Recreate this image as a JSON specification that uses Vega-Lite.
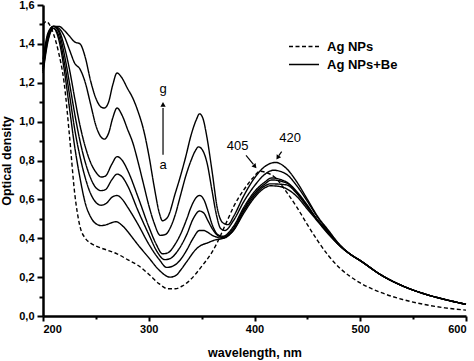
{
"$schema":"https://vega.github.io/schema/vega-lite/v6.json",
"width":423,"height":311,
"autosize":{"type":"none"},
"padding":{"left":43,"top":5,"right":8,"bottom":45},
"background":"white",
"config":{"view":{"stroke":null},"font":"Liberation Sans",
 "axis":{"grid":false,"domainColor":"black","domainWidth":2.5,"tickColor":"black","tickWidth":2,"labelColor":"black","labelFontWeight":"bold","labelFontSize":11,"titleColor":"black","titleFontWeight":"bold","titleFontSize":12.5,"labelOverlap":false,"labelBound":false}},
"resolve":{"scale":{"y":"independent"},"axis":{"y":"independent"}},
"datasets":{
"curves":[
{"c":"a","s":"Ag NPs","x":200,"y":1.5},{"c":"a","s":"Ag NPs","x":203,"y":1.515},{"c":"a","s":"Ag NPs","x":206,"y":1.5},{"c":"a","s":"Ag NPs","x":210,"y":1.45},{"c":"a","s":"Ag NPs","x":215,"y":1.35},{"c":"a","s":"Ag NPs","x":220,"y":1.2},{"c":"a","s":"Ag NPs","x":225,"y":0.93},{"c":"a","s":"Ag NPs","x":230,"y":0.63},{"c":"a","s":"Ag NPs","x":235,"y":0.46},{"c":"a","s":"Ag NPs","x":240,"y":0.4},{"c":"a","s":"Ag NPs","x":245,"y":0.375},{"c":"a","s":"Ag NPs","x":250,"y":0.36},{"c":"a","s":"Ag NPs","x":260,"y":0.34},{"c":"a","s":"Ag NPs","x":270,"y":0.32},{"c":"a","s":"Ag NPs","x":280,"y":0.29},{"c":"a","s":"Ag NPs","x":290,"y":0.26},{"c":"a","s":"Ag NPs","x":300,"y":0.215},{"c":"a","s":"Ag NPs","x":310,"y":0.165},{"c":"a","s":"Ag NPs","x":318,"y":0.14},{"c":"a","s":"Ag NPs","x":325,"y":0.14},{"c":"a","s":"Ag NPs","x":332,"y":0.155},{"c":"a","s":"Ag NPs","x":340,"y":0.19},{"c":"a","s":"Ag NPs","x":350,"y":0.255},{"c":"a","s":"Ag NPs","x":360,"y":0.33},{"c":"a","s":"Ag NPs","x":365,"y":0.38},{"c":"a","s":"Ag NPs","x":370,"y":0.44},{"c":"a","s":"Ag NPs","x":375,"y":0.5},{"c":"a","s":"Ag NPs","x":380,"y":0.56},{"c":"a","s":"Ag NPs","x":390,"y":0.65},{"c":"a","s":"Ag NPs","x":400,"y":0.72},{"c":"a","s":"Ag NPs","x":405,"y":0.745},{"c":"a","s":"Ag NPs","x":410,"y":0.74},{"c":"a","s":"Ag NPs","x":420,"y":0.71},{"c":"a","s":"Ag NPs","x":430,"y":0.64},{"c":"a","s":"Ag NPs","x":440,"y":0.56},{"c":"a","s":"Ag NPs","x":450,"y":0.47},{"c":"a","s":"Ag NPs","x":460,"y":0.385},{"c":"a","s":"Ag NPs","x":470,"y":0.31},{"c":"a","s":"Ag NPs","x":480,"y":0.25},{"c":"a","s":"Ag NPs","x":490,"y":0.205},{"c":"a","s":"Ag NPs","x":500,"y":0.17},{"c":"a","s":"Ag NPs","x":520,"y":0.12},{"c":"a","s":"Ag NPs","x":540,"y":0.085},{"c":"a","s":"Ag NPs","x":560,"y":0.06},{"c":"a","s":"Ag NPs","x":580,"y":0.042},{"c":"a","s":"Ag NPs","x":600,"y":0.03},

{"c":"g","s":"Ag NPs+Be","x":200,"y":1.32},{"c":"g","s":"Ag NPs+Be","x":205,"y":1.46},{"c":"g","s":"Ag NPs+Be","x":210,"y":1.49},{"c":"g","s":"Ag NPs+Be","x":215,"y":1.49},{"c":"g","s":"Ag NPs+Be","x":220,"y":1.47},{"c":"g","s":"Ag NPs+Be","x":225,"y":1.44},{"c":"g","s":"Ag NPs+Be","x":230,"y":1.41},{"c":"g","s":"Ag NPs+Be","x":235,"y":1.4},{"c":"g","s":"Ag NPs+Be","x":240,"y":1.33},{"c":"g","s":"Ag NPs+Be","x":245,"y":1.21},{"c":"g","s":"Ag NPs+Be","x":250,"y":1.12},{"c":"g","s":"Ag NPs+Be","x":255,"y":1.075},{"c":"g","s":"Ag NPs+Be","x":258,"y":1.07},{"c":"g","s":"Ag NPs+Be","x":262,"y":1.1},{"c":"g","s":"Ag NPs+Be","x":266,"y":1.19},{"c":"g","s":"Ag NPs+Be","x":270,"y":1.25},{"c":"g","s":"Ag NPs+Be","x":274,"y":1.23},{"c":"g","s":"Ag NPs+Be","x":280,"y":1.17},{"c":"g","s":"Ag NPs+Be","x":285,"y":1.12},{"c":"g","s":"Ag NPs+Be","x":290,"y":1.05},{"c":"g","s":"Ag NPs+Be","x":295,"y":0.96},{"c":"g","s":"Ag NPs+Be","x":300,"y":0.83},{"c":"g","s":"Ag NPs+Be","x":305,"y":0.67},{"c":"g","s":"Ag NPs+Be","x":310,"y":0.53},{"c":"g","s":"Ag NPs+Be","x":313,"y":0.49},{"c":"g","s":"Ag NPs+Be","x":318,"y":0.51},{"c":"g","s":"Ag NPs+Be","x":325,"y":0.63},{"c":"g","s":"Ag NPs+Be","x":330,"y":0.72},{"c":"g","s":"Ag NPs+Be","x":335,"y":0.82},{"c":"g","s":"Ag NPs+Be","x":340,"y":0.93},{"c":"g","s":"Ag NPs+Be","x":345,"y":1.01},{"c":"g","s":"Ag NPs+Be","x":348,"y":1.04},{"c":"g","s":"Ag NPs+Be","x":351,"y":1.02},{"c":"g","s":"Ag NPs+Be","x":355,"y":0.92},{"c":"g","s":"Ag NPs+Be","x":360,"y":0.74},{"c":"g","s":"Ag NPs+Be","x":365,"y":0.55},{"c":"g","s":"Ag NPs+Be","x":370,"y":0.48},{"c":"g","s":"Ag NPs+Be","x":375,"y":0.47},{"c":"g","s":"Ag NPs+Be","x":380,"y":0.51},{"c":"g","s":"Ag NPs+Be","x":390,"y":0.62},{"c":"g","s":"Ag NPs+Be","x":400,"y":0.71},{"c":"g","s":"Ag NPs+Be","x":410,"y":0.77},{"c":"g","s":"Ag NPs+Be","x":420,"y":0.79},{"c":"g","s":"Ag NPs+Be","x":430,"y":0.76},{"c":"g","s":"Ag NPs+Be","x":440,"y":0.69},{"c":"g","s":"Ag NPs+Be","x":450,"y":0.6},{"c":"g","s":"Ag NPs+Be","x":460,"y":0.51},{"c":"g","s":"Ag NPs+Be","x":470,"y":0.44},{"c":"g","s":"Ag NPs+Be","x":480,"y":0.37},{"c":"g","s":"Ag NPs+Be","x":490,"y":0.32},{"c":"g","s":"Ag NPs+Be","x":500,"y":0.285},{"c":"g","s":"Ag NPs+Be","x":520,"y":0.21},{"c":"g","s":"Ag NPs+Be","x":540,"y":0.155},{"c":"g","s":"Ag NPs+Be","x":560,"y":0.115},{"c":"g","s":"Ag NPs+Be","x":580,"y":0.085},{"c":"g","s":"Ag NPs+Be","x":600,"y":0.06},

{"c":"f","s":"Ag NPs+Be","x":200,"y":1.3},{"c":"f","s":"Ag NPs+Be","x":205,"y":1.45},{"c":"f","s":"Ag NPs+Be","x":210,"y":1.49},{"c":"f","s":"Ag NPs+Be","x":215,"y":1.48},{"c":"f","s":"Ag NPs+Be","x":220,"y":1.44},{"c":"f","s":"Ag NPs+Be","x":225,"y":1.37},{"c":"f","s":"Ag NPs+Be","x":230,"y":1.3},{"c":"f","s":"Ag NPs+Be","x":235,"y":1.27},{"c":"f","s":"Ag NPs+Be","x":240,"y":1.2},{"c":"f","s":"Ag NPs+Be","x":245,"y":1.09},{"c":"f","s":"Ag NPs+Be","x":250,"y":0.98},{"c":"f","s":"Ag NPs+Be","x":255,"y":0.92},{"c":"f","s":"Ag NPs+Be","x":258,"y":0.91},{"c":"f","s":"Ag NPs+Be","x":262,"y":0.94},{"c":"f","s":"Ag NPs+Be","x":266,"y":1.02},{"c":"f","s":"Ag NPs+Be","x":270,"y":1.07},{"c":"f","s":"Ag NPs+Be","x":275,"y":1.03},{"c":"f","s":"Ag NPs+Be","x":280,"y":0.96},{"c":"f","s":"Ag NPs+Be","x":285,"y":0.89},{"c":"f","s":"Ag NPs+Be","x":290,"y":0.79},{"c":"f","s":"Ag NPs+Be","x":295,"y":0.68},{"c":"f","s":"Ag NPs+Be","x":300,"y":0.57},{"c":"f","s":"Ag NPs+Be","x":305,"y":0.48},{"c":"f","s":"Ag NPs+Be","x":311,"y":0.415},{"c":"f","s":"Ag NPs+Be","x":316,"y":0.42},{"c":"f","s":"Ag NPs+Be","x":320,"y":0.45},{"c":"f","s":"Ag NPs+Be","x":325,"y":0.52},{"c":"f","s":"Ag NPs+Be","x":330,"y":0.62},{"c":"f","s":"Ag NPs+Be","x":335,"y":0.72},{"c":"f","s":"Ag NPs+Be","x":340,"y":0.8},{"c":"f","s":"Ag NPs+Be","x":344,"y":0.85},{"c":"f","s":"Ag NPs+Be","x":347,"y":0.87},{"c":"f","s":"Ag NPs+Be","x":350,"y":0.86},{"c":"f","s":"Ag NPs+Be","x":355,"y":0.79},{"c":"f","s":"Ag NPs+Be","x":360,"y":0.64},{"c":"f","s":"Ag NPs+Be","x":364,"y":0.52},{"c":"f","s":"Ag NPs+Be","x":368,"y":0.45},{"c":"f","s":"Ag NPs+Be","x":372,"y":0.44},{"c":"f","s":"Ag NPs+Be","x":380,"y":0.49},{"c":"f","s":"Ag NPs+Be","x":390,"y":0.59},{"c":"f","s":"Ag NPs+Be","x":400,"y":0.67},{"c":"f","s":"Ag NPs+Be","x":410,"y":0.73},{"c":"f","s":"Ag NPs+Be","x":418,"y":0.75},{"c":"f","s":"Ag NPs+Be","x":430,"y":0.73},{"c":"f","s":"Ag NPs+Be","x":440,"y":0.67},{"c":"f","s":"Ag NPs+Be","x":450,"y":0.59},{"c":"f","s":"Ag NPs+Be","x":460,"y":0.505},{"c":"f","s":"Ag NPs+Be","x":470,"y":0.435},{"c":"f","s":"Ag NPs+Be","x":480,"y":0.37},{"c":"f","s":"Ag NPs+Be","x":490,"y":0.32},{"c":"f","s":"Ag NPs+Be","x":500,"y":0.285},{"c":"f","s":"Ag NPs+Be","x":520,"y":0.21},{"c":"f","s":"Ag NPs+Be","x":540,"y":0.155},{"c":"f","s":"Ag NPs+Be","x":560,"y":0.115},{"c":"f","s":"Ag NPs+Be","x":580,"y":0.085},{"c":"f","s":"Ag NPs+Be","x":600,"y":0.06},

{"c":"e","s":"Ag NPs+Be","x":200,"y":1.28},{"c":"e","s":"Ag NPs+Be","x":205,"y":1.45},{"c":"e","s":"Ag NPs+Be","x":210,"y":1.49},{"c":"e","s":"Ag NPs+Be","x":215,"y":1.47},{"c":"e","s":"Ag NPs+Be","x":220,"y":1.39},{"c":"e","s":"Ag NPs+Be","x":225,"y":1.27},{"c":"e","s":"Ag NPs+Be","x":230,"y":1.12},{"c":"e","s":"Ag NPs+Be","x":235,"y":0.98},{"c":"e","s":"Ag NPs+Be","x":240,"y":0.87},{"c":"e","s":"Ag NPs+Be","x":245,"y":0.79},{"c":"e","s":"Ag NPs+Be","x":250,"y":0.74},{"c":"e","s":"Ag NPs+Be","x":255,"y":0.715},{"c":"e","s":"Ag NPs+Be","x":259,"y":0.72},{"c":"e","s":"Ag NPs+Be","x":265,"y":0.78},{"c":"e","s":"Ag NPs+Be","x":270,"y":0.82},{"c":"e","s":"Ag NPs+Be","x":275,"y":0.8},{"c":"e","s":"Ag NPs+Be","x":280,"y":0.75},{"c":"e","s":"Ag NPs+Be","x":290,"y":0.61},{"c":"e","s":"Ag NPs+Be","x":300,"y":0.46},{"c":"e","s":"Ag NPs+Be","x":307,"y":0.37},{"c":"e","s":"Ag NPs+Be","x":313,"y":0.32},{"c":"e","s":"Ag NPs+Be","x":318,"y":0.325},{"c":"e","s":"Ag NPs+Be","x":325,"y":0.37},{"c":"e","s":"Ag NPs+Be","x":330,"y":0.42},{"c":"e","s":"Ag NPs+Be","x":336,"y":0.5},{"c":"e","s":"Ag NPs+Be","x":340,"y":0.56},{"c":"e","s":"Ag NPs+Be","x":345,"y":0.61},{"c":"e","s":"Ag NPs+Be","x":348,"y":0.62},{"c":"e","s":"Ag NPs+Be","x":352,"y":0.6},{"c":"e","s":"Ag NPs+Be","x":356,"y":0.54},{"c":"e","s":"Ag NPs+Be","x":360,"y":0.47},{"c":"e","s":"Ag NPs+Be","x":365,"y":0.42},{"c":"e","s":"Ag NPs+Be","x":370,"y":0.41},{"c":"e","s":"Ag NPs+Be","x":380,"y":0.46},{"c":"e","s":"Ag NPs+Be","x":390,"y":0.56},{"c":"e","s":"Ag NPs+Be","x":400,"y":0.64},{"c":"e","s":"Ag NPs+Be","x":410,"y":0.69},{"c":"e","s":"Ag NPs+Be","x":416,"y":0.71},{"c":"e","s":"Ag NPs+Be","x":430,"y":0.69},{"c":"e","s":"Ag NPs+Be","x":440,"y":0.64},{"c":"e","s":"Ag NPs+Be","x":450,"y":0.57},{"c":"e","s":"Ag NPs+Be","x":460,"y":0.49},{"c":"e","s":"Ag NPs+Be","x":470,"y":0.43},{"c":"e","s":"Ag NPs+Be","x":480,"y":0.365},{"c":"e","s":"Ag NPs+Be","x":490,"y":0.32},{"c":"e","s":"Ag NPs+Be","x":500,"y":0.285},{"c":"e","s":"Ag NPs+Be","x":520,"y":0.21},{"c":"e","s":"Ag NPs+Be","x":540,"y":0.155},{"c":"e","s":"Ag NPs+Be","x":560,"y":0.115},{"c":"e","s":"Ag NPs+Be","x":580,"y":0.085},{"c":"e","s":"Ag NPs+Be","x":600,"y":0.06},

{"c":"d","s":"Ag NPs+Be","x":200,"y":1.27},{"c":"d","s":"Ag NPs+Be","x":205,"y":1.44},{"c":"d","s":"Ag NPs+Be","x":210,"y":1.49},{"c":"d","s":"Ag NPs+Be","x":215,"y":1.46},{"c":"d","s":"Ag NPs+Be","x":220,"y":1.35},{"c":"d","s":"Ag NPs+Be","x":225,"y":1.2},{"c":"d","s":"Ag NPs+Be","x":230,"y":1.04},{"c":"d","s":"Ag NPs+Be","x":235,"y":0.9},{"c":"d","s":"Ag NPs+Be","x":240,"y":0.79},{"c":"d","s":"Ag NPs+Be","x":245,"y":0.71},{"c":"d","s":"Ag NPs+Be","x":250,"y":0.66},{"c":"d","s":"Ag NPs+Be","x":255,"y":0.645},{"c":"d","s":"Ag NPs+Be","x":259,"y":0.65},{"c":"d","s":"Ag NPs+Be","x":265,"y":0.7},{"c":"d","s":"Ag NPs+Be","x":270,"y":0.73},{"c":"d","s":"Ag NPs+Be","x":275,"y":0.715},{"c":"d","s":"Ag NPs+Be","x":280,"y":0.67},{"c":"d","s":"Ag NPs+Be","x":290,"y":0.54},{"c":"d","s":"Ag NPs+Be","x":300,"y":0.42},{"c":"d","s":"Ag NPs+Be","x":308,"y":0.33},{"c":"d","s":"Ag NPs+Be","x":315,"y":0.29},{"c":"d","s":"Ag NPs+Be","x":320,"y":0.295},{"c":"d","s":"Ag NPs+Be","x":328,"y":0.34},{"c":"d","s":"Ag NPs+Be","x":336,"y":0.42},{"c":"d","s":"Ag NPs+Be","x":342,"y":0.5},{"c":"d","s":"Ag NPs+Be","x":348,"y":0.54},{"c":"d","s":"Ag NPs+Be","x":352,"y":0.53},{"c":"d","s":"Ag NPs+Be","x":356,"y":0.49},{"c":"d","s":"Ag NPs+Be","x":360,"y":0.45},{"c":"d","s":"Ag NPs+Be","x":365,"y":0.415},{"c":"d","s":"Ag NPs+Be","x":370,"y":0.405},{"c":"d","s":"Ag NPs+Be","x":380,"y":0.45},{"c":"d","s":"Ag NPs+Be","x":390,"y":0.55},{"c":"d","s":"Ag NPs+Be","x":400,"y":0.63},{"c":"d","s":"Ag NPs+Be","x":410,"y":0.68},{"c":"d","s":"Ag NPs+Be","x":416,"y":0.7},{"c":"d","s":"Ag NPs+Be","x":430,"y":0.685},{"c":"d","s":"Ag NPs+Be","x":440,"y":0.635},{"c":"d","s":"Ag NPs+Be","x":450,"y":0.565},{"c":"d","s":"Ag NPs+Be","x":460,"y":0.49},{"c":"d","s":"Ag NPs+Be","x":470,"y":0.425},{"c":"d","s":"Ag NPs+Be","x":480,"y":0.365},{"c":"d","s":"Ag NPs+Be","x":490,"y":0.32},{"c":"d","s":"Ag NPs+Be","x":500,"y":0.285},{"c":"d","s":"Ag NPs+Be","x":520,"y":0.21},{"c":"d","s":"Ag NPs+Be","x":540,"y":0.155},{"c":"d","s":"Ag NPs+Be","x":560,"y":0.115},{"c":"d","s":"Ag NPs+Be","x":580,"y":0.085},{"c":"d","s":"Ag NPs+Be","x":600,"y":0.06},

{"c":"c","s":"Ag NPs+Be","x":200,"y":1.26},{"c":"c","s":"Ag NPs+Be","x":205,"y":1.43},{"c":"c","s":"Ag NPs+Be","x":210,"y":1.48},{"c":"c","s":"Ag NPs+Be","x":215,"y":1.44},{"c":"c","s":"Ag NPs+Be","x":220,"y":1.31},{"c":"c","s":"Ag NPs+Be","x":225,"y":1.14},{"c":"c","s":"Ag NPs+Be","x":230,"y":0.96},{"c":"c","s":"Ag NPs+Be","x":235,"y":0.82},{"c":"c","s":"Ag NPs+Be","x":240,"y":0.71},{"c":"c","s":"Ag NPs+Be","x":245,"y":0.63},{"c":"c","s":"Ag NPs+Be","x":250,"y":0.585},{"c":"c","s":"Ag NPs+Be","x":255,"y":0.57},{"c":"c","s":"Ag NPs+Be","x":260,"y":0.58},{"c":"c","s":"Ag NPs+Be","x":265,"y":0.61},{"c":"c","s":"Ag NPs+Be","x":270,"y":0.62},{"c":"c","s":"Ag NPs+Be","x":275,"y":0.6},{"c":"c","s":"Ag NPs+Be","x":280,"y":0.56},{"c":"c","s":"Ag NPs+Be","x":290,"y":0.47},{"c":"c","s":"Ag NPs+Be","x":300,"y":0.37},{"c":"c","s":"Ag NPs+Be","x":310,"y":0.29},{"c":"c","s":"Ag NPs+Be","x":317,"y":0.25},{"c":"c","s":"Ag NPs+Be","x":324,"y":0.26},{"c":"c","s":"Ag NPs+Be","x":330,"y":0.29},{"c":"c","s":"Ag NPs+Be","x":336,"y":0.34},{"c":"c","s":"Ag NPs+Be","x":342,"y":0.4},{"c":"c","s":"Ag NPs+Be","x":348,"y":0.44},{"c":"c","s":"Ag NPs+Be","x":352,"y":0.44},{"c":"c","s":"Ag NPs+Be","x":356,"y":0.43},{"c":"c","s":"Ag NPs+Be","x":360,"y":0.415},{"c":"c","s":"Ag NPs+Be","x":365,"y":0.405},{"c":"c","s":"Ag NPs+Be","x":370,"y":0.4},{"c":"c","s":"Ag NPs+Be","x":380,"y":0.44},{"c":"c","s":"Ag NPs+Be","x":390,"y":0.54},{"c":"c","s":"Ag NPs+Be","x":400,"y":0.62},{"c":"c","s":"Ag NPs+Be","x":410,"y":0.67},{"c":"c","s":"Ag NPs+Be","x":415,"y":0.68},{"c":"c","s":"Ag NPs+Be","x":430,"y":0.675},{"c":"c","s":"Ag NPs+Be","x":440,"y":0.63},{"c":"c","s":"Ag NPs+Be","x":450,"y":0.56},{"c":"c","s":"Ag NPs+Be","x":460,"y":0.49},{"c":"c","s":"Ag NPs+Be","x":470,"y":0.425},{"c":"c","s":"Ag NPs+Be","x":480,"y":0.365},{"c":"c","s":"Ag NPs+Be","x":490,"y":0.32},{"c":"c","s":"Ag NPs+Be","x":500,"y":0.285},{"c":"c","s":"Ag NPs+Be","x":520,"y":0.21},{"c":"c","s":"Ag NPs+Be","x":540,"y":0.155},{"c":"c","s":"Ag NPs+Be","x":560,"y":0.115},{"c":"c","s":"Ag NPs+Be","x":580,"y":0.085},{"c":"c","s":"Ag NPs+Be","x":600,"y":0.06},

{"c":"b","s":"Ag NPs+Be","x":200,"y":1.25},{"c":"b","s":"Ag NPs+Be","x":205,"y":1.42},{"c":"b","s":"Ag NPs+Be","x":210,"y":1.48},{"c":"b","s":"Ag NPs+Be","x":215,"y":1.42},{"c":"b","s":"Ag NPs+Be","x":220,"y":1.27},{"c":"b","s":"Ag NPs+Be","x":225,"y":1.07},{"c":"b","s":"Ag NPs+Be","x":230,"y":0.87},{"c":"b","s":"Ag NPs+Be","x":235,"y":0.71},{"c":"b","s":"Ag NPs+Be","x":240,"y":0.58},{"c":"b","s":"Ag NPs+Be","x":245,"y":0.51},{"c":"b","s":"Ag NPs+Be","x":250,"y":0.475},{"c":"b","s":"Ag NPs+Be","x":255,"y":0.465},{"c":"b","s":"Ag NPs+Be","x":260,"y":0.47},{"c":"b","s":"Ag NPs+Be","x":265,"y":0.48},{"c":"b","s":"Ag NPs+Be","x":269,"y":0.485},{"c":"b","s":"Ag NPs+Be","x":275,"y":0.465},{"c":"b","s":"Ag NPs+Be","x":280,"y":0.435},{"c":"b","s":"Ag NPs+Be","x":285,"y":0.4},{"c":"b","s":"Ag NPs+Be","x":290,"y":0.365},{"c":"b","s":"Ag NPs+Be","x":300,"y":0.3},{"c":"b","s":"Ag NPs+Be","x":310,"y":0.235},{"c":"b","s":"Ag NPs+Be","x":320,"y":0.2},{"c":"b","s":"Ag NPs+Be","x":326,"y":0.21},{"c":"b","s":"Ag NPs+Be","x":330,"y":0.235},{"c":"b","s":"Ag NPs+Be","x":336,"y":0.28},{"c":"b","s":"Ag NPs+Be","x":345,"y":0.345},{"c":"b","s":"Ag NPs+Be","x":350,"y":0.365},{"c":"b","s":"Ag NPs+Be","x":355,"y":0.375},{"c":"b","s":"Ag NPs+Be","x":362,"y":0.39},{"c":"b","s":"Ag NPs+Be","x":370,"y":0.4},{"c":"b","s":"Ag NPs+Be","x":380,"y":0.44},{"c":"b","s":"Ag NPs+Be","x":390,"y":0.53},{"c":"b","s":"Ag NPs+Be","x":400,"y":0.61},{"c":"b","s":"Ag NPs+Be","x":410,"y":0.66},{"c":"b","s":"Ag NPs+Be","x":415,"y":0.67},{"c":"b","s":"Ag NPs+Be","x":425,"y":0.665},{"c":"b","s":"Ag NPs+Be","x":440,"y":0.615},{"c":"b","s":"Ag NPs+Be","x":450,"y":0.55},{"c":"b","s":"Ag NPs+Be","x":460,"y":0.485},{"c":"b","s":"Ag NPs+Be","x":470,"y":0.42},{"c":"b","s":"Ag NPs+Be","x":480,"y":0.365},{"c":"b","s":"Ag NPs+Be","x":490,"y":0.32},{"c":"b","s":"Ag NPs+Be","x":500,"y":0.285},{"c":"b","s":"Ag NPs+Be","x":520,"y":0.21},{"c":"b","s":"Ag NPs+Be","x":540,"y":0.155},{"c":"b","s":"Ag NPs+Be","x":560,"y":0.115},{"c":"b","s":"Ag NPs+Be","x":580,"y":0.085},{"c":"b","s":"Ag NPs+Be","x":600,"y":0.06}
],
"labels":[
{"x":384,"y":0.877,"t":"405"},{"x":433.6,"y":0.915,"t":"420"},{"x":313.5,"y":1.17,"t":"g"},{"x":313.5,"y":0.775,"t":"a"}
],
"arrows":[
{"x":392,"y":0.826,"x2":399,"y2":0.78},{"x":425.7,"y":0.846,"x2":423,"y2":0.825},{"x":313.5,"y":0.83,"x2":313.5,"y2":1.07}
],
"heads":[
{"x":400,"y":0.772,"a":140},{"x":422.3,"y":0.818,"a":213},{"x":313.5,"y":1.085,"a":0}
]
},
"layer":[
{"data":{"name":"curves"},
 "mark":{"type":"line","interpolate":"monotone","color":"black","strokeWidth":1.4},
 "encoding":{
  "x":{"field":"x","type":"quantitative","scale":{"domain":[200,600],"nice":false,"zero":false},
   "axis":{"title":"wavelength, nm","titlePadding":12,"values":[200,250,300,350,400,450,500,550,600],"labelOverlap":false,
    "labelExpr":"datum.value % 100 === 0 ? datum.label : ''","labelPadding":2,
    "tickSize":{"condition":{"test":"datum.value % 100 === 0","value":5},"value":3}}},
  "y":{"field":"y","type":"quantitative","scale":{"domain":[0,1.6],"nice":false,"zero":false},
   "axis":{"orient":"left","title":"Optical density","titlePadding":5,"values":[0,0.2,0.4,0.6,0.8,1.0,1.2,1.4,1.6],"labelOverlap":false,
    "labelExpr":"replace(format(datum.value,'.1f'),'.',',')","labelPadding":3,"tickSize":6}},
  "detail":{"field":"c"},
  "strokeDash":{"field":"s","type":"nominal","scale":{"domain":["Ag NPs","Ag NPs+Be"],"range":[[4,2.5],[1,0]]},
   "legend":{"orient":"none","legendX":252.5,"legendY":33,"title":null,"symbolType":"M-2,0L2,0","symbolSize":225,"symbolStrokeWidth":1.5,"symbolStrokeColor":"black","labelFontSize":13,"labelFontWeight":"bold","labelColor":"black","labelOffset":14.5,"rowPadding":2}}
 }},
{"data":{"name":"arrows"},"mark":{"type":"rule","color":"black","strokeWidth":1.2},
 "encoding":{"x":{"field":"x","type":"quantitative"},
  "y":{"field":"y","type":"quantitative","scale":{"domain":[0,1.6],"nice":false,"zero":false},
   "axis":{"orient":"left","title":null,"values":[0.1,0.3,0.5,0.7,0.9,1.1,1.3,1.5],"labels":false,"tickSize":4,"domain":false}},
  "x2":{"field":"x2"},"y2":{"field":"y2"}}},
{"data":{"name":"heads"},"mark":{"type":"point","shape":"triangle","filled":true,"color":"black","size":28,"opacity":1},
 "encoding":{"x":{"field":"x","type":"quantitative"},
  "y":{"field":"y","type":"quantitative","scale":{"domain":[0,1.6],"nice":false,"zero":false},"axis":null},
  "angle":{"field":"a","type":"quantitative","scale":null}}},
{"data":{"name":"labels"},"mark":{"type":"text","fontSize":13,"color":"black","fill":"black","baseline":"middle","align":"center"},
 "encoding":{"x":{"field":"x","type":"quantitative"},
  "y":{"field":"y","type":"quantitative","scale":{"domain":[0,1.6],"nice":false,"zero":false},"axis":null},
  "text":{"field":"t"}}}
]
}
